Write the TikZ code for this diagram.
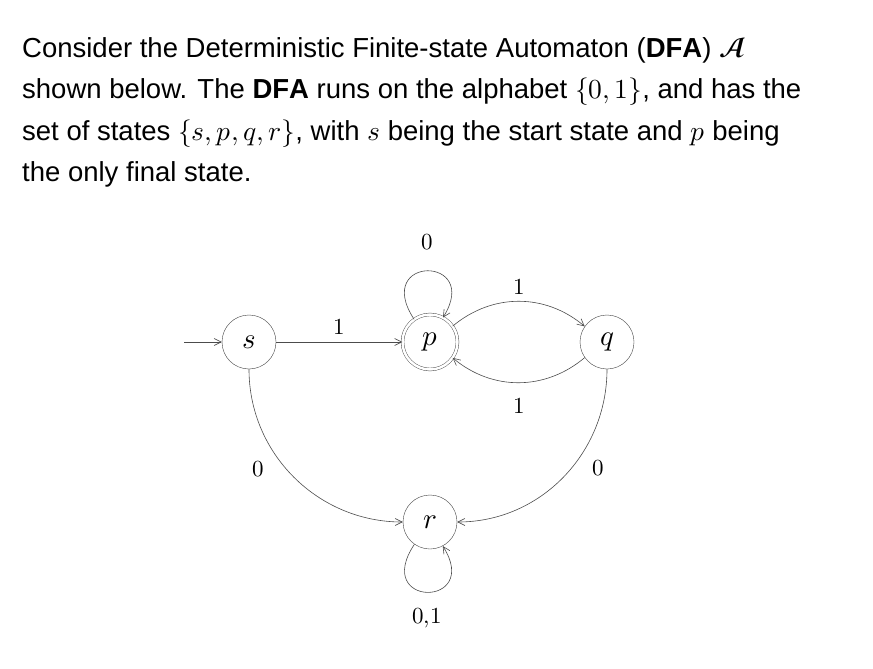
\documentclass[tikz,border=0pt]{standalone}
\usepackage{unicode-math}
\setmainfont{Liberation Sans}
\setmathfont{Latin Modern Math}
\usetikzlibrary{arrows.meta}
\begin{document}
\begin{tikzpicture}[x=1pt,y=-1pt,
  st/.style={draw=black!75,circle,minimum size=54pt,inner sep=0pt,font=\fontsize{29}{29}\selectfont},
  fin/.style={st,double,double distance=2.5pt,minimum size=55pt},
  edge/.style={draw=black!70,line width=0.6pt,-{Straight Barb[length=7pt,width=7pt]}},
  lab/.style={font=\fontsize{23}{23}\selectfont},
  txt/.style={anchor=base west,inner sep=0pt,font=\fontsize{27.5}{27.5}\selectfont}]
\useasboundingbox (0,0) rectangle (873,669);
\node[txt] (l1) at (22,58) {Consider the Deterministic Finite-state Automaton ($\mathbf{DFA}$) $\symbfcal{A}$};
\node[txt] (l2) at (22,99) {shown below. The $\mathbf{DFA}$ runs on the alphabet $\{0,1\}$, and has the};
\node[txt] (l3) at (22,140) {set of states $\{s,p,q,r\}$, with $s$ being the start state and $p$ being};
\node[txt] (l4) at (22,181) {the only final state.};
\node[st] (s) at (249,342) {$s$};
\node[fin] (p) at (430,342) {$p$};
\node[st] (q) at (607,342) {$q$};
\node[st] (r) at (430,522) {$r$};
\coordinate (init) at (184,342);
\draw[edge] (init) -- (s);
\draw[edge] (s) -- node[lab,above=4pt]{$1$} (p);
\draw[edge] (p.125) .. controls (372,255) and (482,255) .. (p.62);
\node[lab] (l0) at (427,242) {$0$};
\draw[edge] (p.35) to[bend left=40] node[lab,above=3pt]{$1$} (q.145);
\draw[edge] (q.-145) to[bend left=40] node[lab,below=12pt]{$1$} (p.-35);
\draw[edge] (s.-90) to[out=-90,in=180] node[lab,pos=0.45,left=18pt]{$0$} (r.180);
\draw[edge] (q.-90) to[out=-90,in=0] node[lab,pos=0.45,right=18pt]{$0$} (r.0);
\draw[edge] (r.-125) .. controls (372,608) and (482,608) .. (r.-62);
\node[lab] (l01) at (427,618) {$0{,}1$};
\end{tikzpicture}
\end{document}
